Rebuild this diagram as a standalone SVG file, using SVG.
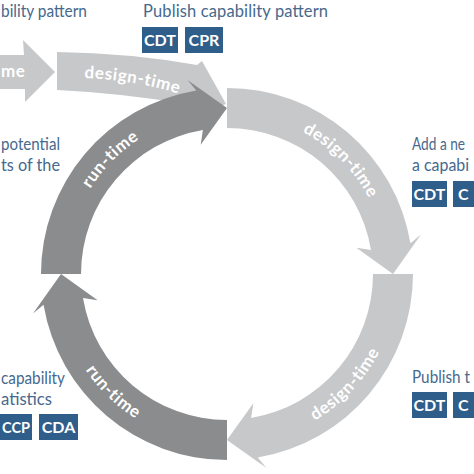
<svg xmlns="http://www.w3.org/2000/svg" width="474" height="474" viewBox="0 0 474 474">
<defs>
<style>
.light{fill:#c7c8ca}
.dark{fill:#8b8c8e}
.lbl{font-family:Lato,"Open Sans","Liberation Sans",sans-serif;font-size:16.5px;fill:#46698d}
.box{fill:#2f5e8a}
.btx{font-family:Lato,"Liberation Sans",sans-serif;font-size:16px;font-weight:bold;fill:#fff;text-anchor:middle}
.btl{font-family:Lato,"Liberation Sans",sans-serif;font-size:16px;font-weight:bold;fill:#fff;text-anchor:start}
.arct{font-family:Lato,"Liberation Sans",sans-serif;font-size:17px;font-weight:bold;fill:#fff;letter-spacing:0.6px}
</style>
<path id="arc" d="M227,88 A186,186 0 0 1 410.45,243.30 L421.02,234.52 L393,274 L356.35,247.68 L371,249.9 A146,146 0 0 0 227,128 Z"/>
<path id="p0" d="M83,78 Q135,80 180,94"/>
<path id="p1" d="M241.03,113.61 A161,161 0 0 1 387.39,259.97"/>
<path id="p2" d="M247.84,443.73 A171,171 0 0 0 397.77,282.95"/>
<path id="p3" d="M56.94,291.87 A171,171 0 0 0 215.07,444.58"/>
<path id="p4" d="M66.5,261.37 A161,161 0 0 1 211.57,113.74"/>
</defs>
<rect width="474" height="474" fill="#fff"/>
<g id="connectors">
  <path class="light" d="M0,55 L24,55 L23,40 L55,72 L25,102 L25,89 L0,89 Z"/>
  <text class="arct" x="1" y="77">me</text>
  <path class="light" d="M57,52 Q130,53 197,65 L202,61 L226,104 L178,122 L186,104 Q120,93 57,90 Z"/>
  <text class="arct"><textPath href="#p0" startOffset="50%" text-anchor="middle">design-time</textPath></text>
  <use href="#arc" class="light"/>
  <use href="#arc" class="light" transform="rotate(90 227 274)"/>
  <use href="#arc" class="dark" transform="rotate(180 227 274)"/>
  <use href="#arc" class="dark" transform="rotate(270 227 274)"/>
  <text class="arct"><textPath href="#p1" startOffset="50%" text-anchor="middle">design-time</textPath></text>
  <text class="arct"><textPath href="#p2" startOffset="50%" text-anchor="middle">design-time</textPath></text>
  <text class="arct"><textPath href="#p3" startOffset="50%" text-anchor="middle">run-time</textPath></text>
  <text class="arct"><textPath href="#p4" startOffset="50%" text-anchor="middle">run-time</textPath></text>
</g>
<g id="node-top-left">
  <text class="lbl" x="1" y="17" textLength="86" lengthAdjust="spacingAndGlyphs">bility pattern</text>
</g>
<g id="node-top">
  <text class="lbl" x="143" y="17" textLength="185">Publish capability pattern</text>
  <rect class="box" x="142" y="27" width="36" height="26"/>
  <text class="btx" x="160" y="45.6">CDT</text>
  <rect class="box" x="185" y="27" width="38" height="26"/>
  <text class="btx" x="204" y="45.6">CPR</text>
</g>
<g id="node-right">
  <text class="lbl" x="412" y="150" textLength="53" lengthAdjust="spacingAndGlyphs">Add a ne</text>
  <text class="lbl" x="412" y="171" textLength="57" lengthAdjust="spacingAndGlyphs">a capabi</text>
  <rect class="box" x="412" y="181" width="35" height="26"/>
  <text class="btx" x="429.5" y="199.6">CDT</text>
  <rect class="box" x="453" y="181" width="38" height="26"/>
  <text class="btl" x="458" y="199.6">C</text>
</g>
<g id="node-bottom-right">
  <text class="lbl" x="412" y="383" textLength="58" lengthAdjust="spacingAndGlyphs">Publish t</text>
  <rect class="box" x="412" y="392" width="35" height="26"/>
  <text class="btx" x="429.5" y="410.6">CDT</text>
  <rect class="box" x="453" y="392" width="38" height="26"/>
  <text class="btl" x="458" y="410.6">C</text>
</g>
<g id="node-left">
  <text class="lbl" x="1" y="150" textLength="59" lengthAdjust="spacingAndGlyphs">potential</text>
  <text class="lbl" x="1" y="171" textLength="59" lengthAdjust="spacingAndGlyphs">ts of the</text>
</g>
<g id="node-bottom-left">
  <text class="lbl" x="1" y="384" textLength="64" lengthAdjust="spacingAndGlyphs">capability</text>
  <text class="lbl" x="1" y="405" textLength="51" lengthAdjust="spacingAndGlyphs">atistics</text>
  <rect class="box" x="-6" y="414" width="38" height="26"/>
  <text class="btl" x="2" y="432.6" textLength="28" lengthAdjust="spacingAndGlyphs">CCP</text>
  <rect class="box" x="39" y="414" width="39" height="26"/>
  <text class="btx" x="58.5" y="432.6">CDA</text>
</g>
</svg>
